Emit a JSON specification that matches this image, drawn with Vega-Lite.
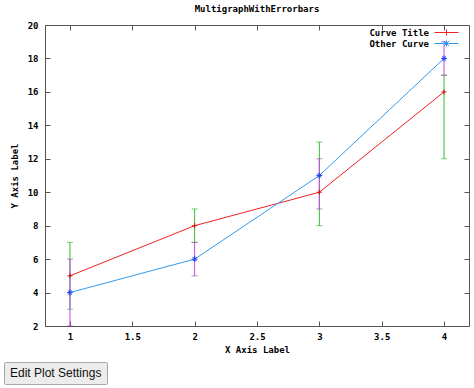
{
  "$schema": "https://vega.github.io/schema/vega-lite/v6.json",
  "background": "white",
  "padding": {"left": 3, "top": 5, "right": 0, "bottom": 0},
  "config": {
    "font": "DejaVu Sans Mono",
    "view": {"stroke": "#555555", "strokeWidth": 1},
    "axis": {
      "labelFont": "DejaVu Sans Mono", "labelFontSize": 9, "labelFontWeight": "bold", "labelColor": "#000000",
      "titleFont": "DejaVu Sans Mono", "titleFontSize": 9, "titleFontWeight": "bold", "titleColor": "#000000",
      "tickColor": "#555555", "tickSize": -5, "domain": false, "grid": false
    },
    "legend": {
      "labelFont": "DejaVu Sans Mono", "labelFontSize": 9, "labelFontWeight": "bold", "labelColor": "#000000"
    }
  },
  "width": 424,
  "height": 301,
  "title": {"text": "MultigraphWithErrorbars", "font": "DejaVu Sans Mono", "fontSize": 9, "fontWeight": "bold", "color": "#000000", "offset": 7},
  "data": {"values": [
    {"series": "Curve Title", "x": 1, "y": 5, "lo": 3, "hi": 7},
    {"series": "Curve Title", "x": 2, "y": 8, "lo": 7, "hi": 9},
    {"series": "Curve Title", "x": 3, "y": 10, "lo": 8, "hi": 13},
    {"series": "Curve Title", "x": 4, "y": 16, "lo": 12, "hi": 17},
    {"series": "Other Curve", "x": 1, "y": 4, "lo": 2, "hi": 6},
    {"series": "Other Curve", "x": 2, "y": 6, "lo": 5, "hi": 7},
    {"series": "Other Curve", "x": 3, "y": 11, "lo": 9, "hi": 12},
    {"series": "Other Curve", "x": 4, "y": 18, "lo": 17, "hi": 19}
  ]},
  "resolve": {"axis": {"x": "independent", "y": "independent"}},
  "layer": [
    {
      "transform": [{"filter": "datum.series === 'Curve Title'"}],
      "mark": {"type": "rule", "color": "#33bb33", "strokeWidth": 1, "clip": true},
      "encoding": {
        "x": {"field": "x", "type": "quantitative", "scale": {"domain": [0.8, 4.2], "nice": false, "zero": false},
              "axis": {"orient": "bottom", "values": [1, 1.5, 2, 2.5, 3, 3.5, 4], "format": "~g", "labelPadding": 11, "title": "X Axis Label", "titlePadding": 4}},
        "y": {"field": "lo", "type": "quantitative", "scale": {"domain": [2, 20], "nice": false, "zero": false},
              "axis": {"orient": "left", "values": [2, 4, 6, 8, 10, 12, 14, 16, 18, 20], "format": "~g", "labelPadding": 12, "title": "Y Axis Label", "titlePadding": 8}},
        "y2": {"field": "hi"}
      }
    },
    {
      "transform": [{"filter": "datum.series === 'Curve Title'"}, {"fold": ["lo", "hi"], "as": ["end", "v"]}],
      "mark": {"type": "tick", "orient": "horizontal", "color": "#33bb33", "size": 6, "thickness": 1, "clip": true},
      "encoding": {
        "x": {"field": "x", "type": "quantitative", "scale": {"domain": [0.8, 4.2], "nice": false, "zero": false},
              "axis": {"orient": "top", "values": [1, 1.5, 2, 2.5, 3, 3.5, 4], "labels": false, "title": null}},
        "y": {"field": "v", "type": "quantitative", "scale": {"domain": [2, 20], "nice": false, "zero": false},
              "axis": {"orient": "right", "values": [2, 4, 6, 8, 10, 12, 14, 16, 18, 20], "labels": false, "title": null}}
      }
    },
    {
      "transform": [{"filter": "datum.series === 'Other Curve'"}],
      "mark": {"type": "rule", "color": "#cc44ee", "strokeWidth": 1, "clip": true},
      "encoding": {
        "x": {"field": "x", "type": "quantitative", "scale": {"domain": [0.8, 4.2], "nice": false, "zero": false}, "axis": null},
        "y": {"field": "lo", "type": "quantitative", "scale": {"domain": [2, 20], "nice": false, "zero": false}, "axis": null},
        "y2": {"field": "hi"}
      }
    },
    {
      "transform": [{"filter": "datum.series === 'Other Curve'"}, {"fold": ["lo", "hi"], "as": ["end", "v"]}],
      "mark": {"type": "tick", "orient": "horizontal", "color": "#9955aa", "size": 6, "thickness": 1, "clip": true},
      "encoding": {
        "x": {"field": "x", "type": "quantitative", "scale": {"domain": [0.8, 4.2], "nice": false, "zero": false}, "axis": null},
        "y": {"field": "v", "type": "quantitative", "scale": {"domain": [2, 20], "nice": false, "zero": false}, "axis": null}
      }
    },
    {
      "mark": {"type": "line", "strokeWidth": 1, "clip": true},
      "encoding": {
        "x": {"field": "x", "type": "quantitative", "scale": {"domain": [0.8, 4.2], "nice": false, "zero": false}, "axis": null},
        "y": {"field": "y", "type": "quantitative", "scale": {"domain": [2, 20], "nice": false, "zero": false}, "axis": null},
        "color": {"field": "series", "type": "nominal",
                  "scale": {"domain": ["Curve Title", "Other Curve"], "range": ["#ee2222", "#3399ee"]},
                  "legend": {"title": null, "orient": "none", "legendX": 396.5, "legendY": 2.5, "padding": 0,
                             "symbolSize": 81, "symbolStrokeWidth": 1, "labelAlign": "right", "labelOffset": -22.5,
                             "rowPadding": -7,
                             "encode": {"symbols": {"update": {"shape": {"signal": "datum.value === 'Curve Title' ? 'M-2.67,0H2.67M0,-0.67V0.67' : 'M-2.67,0H2.67M0,-0.67V0.67M-0.6,-0.6L0.6,0.6M-0.6,0.6L0.6,-0.6'"}}}}}}
      }
    },
    {
      "transform": [{"filter": "datum.series === 'Curve Title'"}],
      "mark": {"type": "point", "shape": "M-1,0H1M0,-1V1", "filled": false, "color": "#cc1111", "strokeWidth": 1, "opacity": 1, "size": 25, "clip": true},
      "encoding": {
        "x": {"field": "x", "type": "quantitative", "scale": {"domain": [0.8, 4.2], "nice": false, "zero": false}, "axis": null},
        "y": {"field": "y", "type": "quantitative", "scale": {"domain": [2, 20], "nice": false, "zero": false}, "axis": null}
      }
    },
    {
      "transform": [{"filter": "datum.series === 'Other Curve'"}],
      "mark": {"type": "point", "shape": "M-1,0H1M0,-1V1M-0.7,-0.7L0.7,0.7M-0.7,0.7L0.7,-0.7", "filled": false, "color": "#2244ee", "strokeWidth": 1, "opacity": 1, "size": 36, "clip": true},
      "encoding": {
        "x": {"field": "x", "type": "quantitative", "scale": {"domain": [0.8, 4.2], "nice": false, "zero": false}, "axis": null},
        "y": {"field": "y", "type": "quantitative", "scale": {"domain": [2, 20], "nice": false, "zero": false}, "axis": null}
      }
    },
    {
      "data": {"values": [{"button": "Edit Plot Settings"}]},
      "mark": {"type": "point", "size": 0, "strokeWidth": 0, "filled": true, "fillOpacity": 0, "strokeOpacity": 0},
      "encoding": {
        "shape": {"field": "button", "type": "nominal",
                  "scale": {"domain": ["Edit Plot Settings"], "range": ["circle"]},
                  "legend": {"title": null, "orient": "none", "legendX": -41, "legendY": 337,
                             "padding": 5, "fillColor": "#ececec", "strokeColor": "#a8a8a8", "cornerRadius": 1,
                             "symbolSize": 1, "symbolOpacity": 0, "symbolStrokeWidth": 0, "labelOffset": -11,
                             "labelFont": "Liberation Sans", "labelFontSize": 12, "labelFontWeight": "normal", "labelColor": "#111111",
                             "labelLimit": 200}}
      }
    }
  ]
}
